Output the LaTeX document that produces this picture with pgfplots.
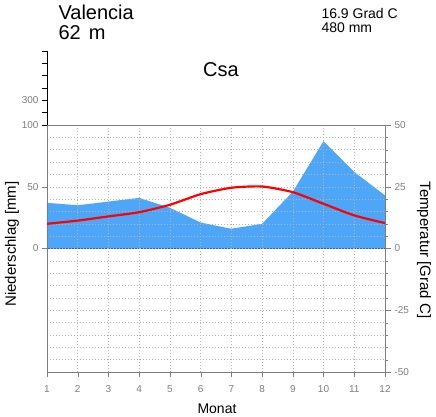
\documentclass[border=0pt]{standalone}
\usepackage{pgfplots}
\pgfplotsset{compat=1.18}
\usepackage{pgfplotstable}
\usepackage{fontspec}
\setmainfont{Liberation Sans}
\definecolor{precip}{RGB}{77,166,247}
\definecolor{tickc}{RGB}{125,125,125}
\definecolor{zeroline}{RGB}{60,95,150}
\pgfplotstableread{
m p t
1 37 10.0
2 35 11.3
3 38 13.0
4 41 14.7
5 33 17.7
6 21 22.0
7 16 24.6
8 20 25.1
9 46 22.8
10 87 18.1
11 62 13.4
12 43 10.3
}\climate
\begin{document}
\begin{tikzpicture}[x=1pt,y=1pt]
\useasboundingbox (0,0) rectangle (436,416);
\begin{axis}[name=main, at={(47pt,44pt)}, anchor=south west, scale only axis,
  width=338pt, height=247pt,
  xmin=1, xmax=12, ymin=-50, ymax=50,
  axis on top,
  tick pos=left, tick align=outside, major tick length=5pt, minor tick length=0pt,
  xtick={1,...,12},
  ytick={0,25,50}, yticklabels={0,50,100},
  minor ytick={-50,-45,...,50},
  grid=both,
  major grid style={dash pattern=on 1pt off 2pt, gray!60, line width=0.5pt},
  minor grid style={dash pattern=on 1pt off 2pt, gray!60, line width=0.5pt},
  axis line style={tickc},
  tick style={tickc},
  ticklabel style={font=\fontsize{10}{10}\selectfont, text=tickc},
  xticklabel style={yshift=-5pt},
  /pgf/number format/assume math mode=true,
]
\addplot[fill=precip, draw=none] table[x=m, y expr=\thisrow{p}/2] {\climate} \closedcycle;
\addplot[zeroline, line width=0.8pt] coordinates {(1,0) (12,0)};
\end{axis}
\begin{axis}[at={(47pt,44pt)}, anchor=south west, scale only axis,
  width=338pt, height=247pt,
  xmin=1, xmax=12, ymin=-50, ymax=50,
  axis y line*=right, hide x axis,
  tick align=outside, major tick length=6pt, minor tick length=3pt,
  ytick={-50,-25,...,50}, minor ytick={-45,-40,...,45},
  axis line style={tickc},
  tick style={tickc},
  ticklabel style={font=\fontsize{10}{10}\selectfont, text=tickc},
  /pgf/number format/assume math mode=true,
]
\addplot[red, line width=2.2pt, smooth, tension=0.4] table[x=m, y=t] {\climate};
\end{axis}
\begin{axis}[at={(47pt,291pt)}, anchor=south west, scale only axis,
  width=338pt, height=74pt,
  xmin=1, xmax=12, ymin=100, ymax=700,
  axis y line*=left, hide x axis,
  tick align=outside, major tick length=5pt,
  ytick={100,200,...,700}, yticklabels={{},{},300,{},{},{},{}},
  axis line style={black, line width=0.9pt},
  tick style={black, line width=0.9pt},
  ticklabel style={font=\fontsize{10}{10}\selectfont, text=tickc},
  /pgf/number format/assume math mode=true,
]
\addplot[draw=none] coordinates {(1,100)};
\end{axis}
\node[anchor=base west, font=\fontsize{20}{20}\selectfont] at (55,396) {Valencia};
\node[anchor=base west, font=\fontsize{20}{20}\selectfont] at (55,376) {62\hspace{0.4em}m};
\node[anchor=base west, font=\fontsize{14}{14}\selectfont] at (318,397) {16.9 Grad C};
\node[anchor=base west, font=\fontsize{14}{14}\selectfont] at (318,383) {480 mm};
\node[anchor=base, font=\fontsize{20}{20}\selectfont] at (221,339) {Csa};
\node[anchor=base, font=\fontsize{14}{14}\selectfont] at (217,3) {Monat};
\node[rotate=90, font=\fontsize{15}{15}\selectfont] at (12,172) {Niederschlag [mm]};
\node[rotate=-90, font=\fontsize{15}{15}\selectfont] at (424,166) {Temperatur [Grad C]};
\end{tikzpicture}
\end{document}
